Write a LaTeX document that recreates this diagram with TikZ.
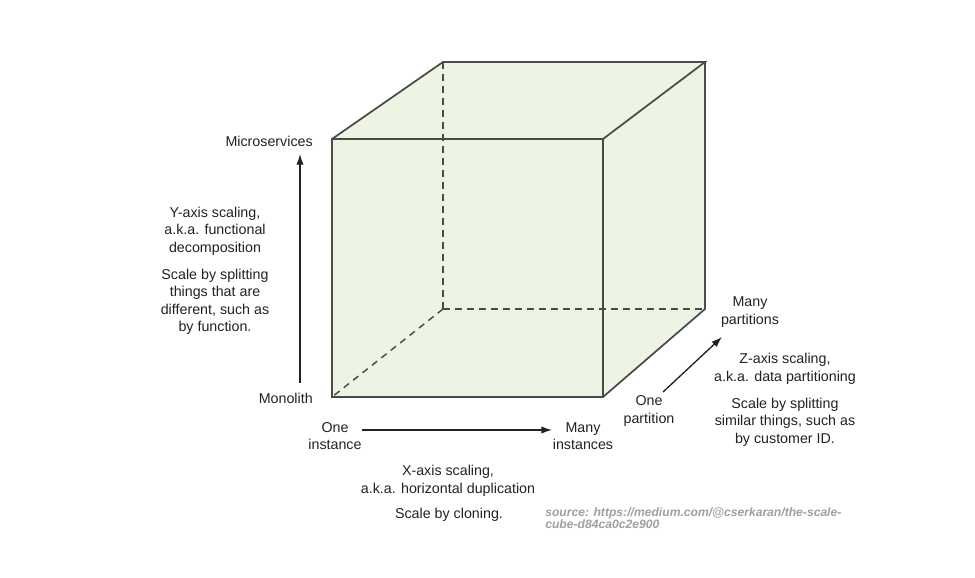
\documentclass[tikz,border=0pt]{standalone}
\usepackage{fontspec}
\setmainfont{Liberation Sans}
\usetikzlibrary{arrows.meta}
\definecolor{cubefill}{HTML}{EEF4E3}
\definecolor{edgecol}{HTML}{4A4A4A}
\definecolor{txtcol}{HTML}{222222}
\definecolor{srccol}{HTML}{A0A0A0}
\tikzset{
  edge/.style={draw=edgecol, line width=1.3pt, line join=miter},
  hidden/.style={draw=edgecol, line width=1.1pt, dash pattern=on 5pt off 4pt},
  axis/.style={draw=txtcol, line width=1pt, -{Latex[length=8pt,width=5.5pt]}},
  lbl/.style={font=\fontsize{10.7pt}{13.1pt}\selectfont, text=txtcol, align=center, inner sep=0pt},
  src/.style={font=\fontsize{9.1pt}{9.4pt}\selectfont\bfseries\itshape, text=srccol, align=left, inner sep=0pt, anchor=west}
}
\begin{document}
\begin{tikzpicture}[x=0.75pt, y=-0.75pt]
\useasboundingbox[fill=white] (0,0) rectangle (975,578);
% cube corners
\coordinate (ftl) at (332,139);
\coordinate (ftr) at (603,139);
\coordinate (fbl) at (332,397);
\coordinate (fbr) at (603,397);
\coordinate (btl) at (443,62);
\coordinate (btr) at (705,62);
\coordinate (bbl) at (443,309);
\coordinate (bbr) at (705,309);
% fill silhouette
\fill[cubefill] (ftl) -- (btl) -- (btr) -- (bbr) -- (fbr) -- (fbl) -- cycle;
% hidden edges
\draw[hidden] (btl) -- (bbl);
\draw[hidden] (bbl) -- (bbr);
\draw[hidden] (bbl) -- (fbl);
% visible edges
\draw[edge] (ftl) -- (ftr) -- (fbr) -- (fbl) -- cycle;
\draw[edge] (ftl) -- (btl) -- (btr) -- (ftr);
\draw[edge] (btr) -- (bbr) -- (fbr);

% Y axis
\node[lbl, anchor=east] (micro) at (313,141) {Microservices};
\node[lbl, anchor=east] (mono) at (313,398) {Monolith};
\coordinate (ystart) at (300,383);
\coordinate (yend) at (300,154);
\draw[axis] (ystart) -- (yend);
\node[lbl] (ytitle) at (215,231) {Y-axis scaling,\\a.k.a. functional\\decomposition};
\node[lbl] (ydesc) at (215,302) {Scale by splitting\\things that are\\different, such as\\by function.};

% X axis
\node[lbl] (oneinst) at (335,436) {One\\instance};
\node[lbl] (manyinst) at (583,436) {Many\\instances};
\coordinate (xs) at (362,430);
\coordinate (xe) at (552,430);
\draw[axis] (xs) -- (xe);
\node[lbl] (xtitle) at (448,481) {X-axis scaling,\\a.k.a. horizontal duplication};
\node[lbl] (xdesc) at (449,515) {Scale by cloning.};

% Z axis
\node[lbl] (onepart) at (649,411) {One\\partition};
\node[lbl] (manypart) at (750,312) {Many\\partitions};
\coordinate (zs) at (663,392);
\coordinate (ze) at (722,337);
\draw[axis] (zs) -- (ze);
\node[lbl] (ztitle) at (785,369) {Z-axis scaling,\\a.k.a. data partitioning};
\node[lbl] (zdesc) at (785,422) {Scale by splitting\\similar things, such as\\by customer ID.};

% source
\node[src] (source) at (545,518) {source: https://medium.com/@cserkaran/the-scale-\\cube-d84ca0c2e900};
\end{tikzpicture}
\end{document}
